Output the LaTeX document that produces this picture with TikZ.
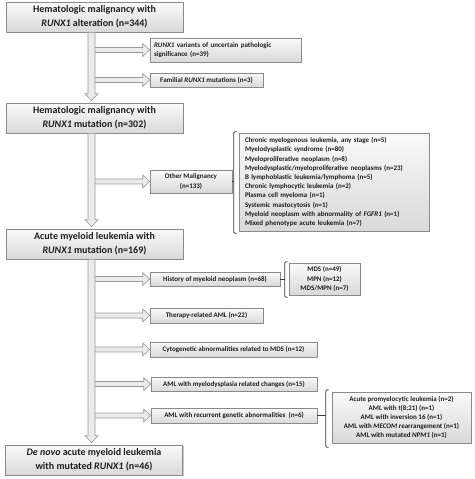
\documentclass[tikz,border=0pt]{standalone}
\usepackage{fontspec}
\setmainfont{Carlito}
\usetikzlibrary{shadows,calc}
\definecolor{bordc}{HTML}{8A8A8A}
\definecolor{txtc}{HTML}{1E1E1E}
\definecolor{arrfill}{HTML}{EBEBEB}
\definecolor{arrdraw}{HTML}{9A9A9A}
\definecolor{brkc}{HTML}{3A3A3A}
\newcommand{\bigfont}{\fontsize{10}{14}\selectfont\bfseries}
\newcommand{\smallfont}{\fontsize{7}{9.2}\selectfont\bfseries}
\newcommand{\hfat}[2]{\draw[fatarrow] let \p1=(#1), \p2=(#2) in
  (\x1,\y2+2.5pt) -- (\x2-7pt,\y2+2.5pt) -- (\x2-7pt,\y2+6.5pt) -- (\x2,\y2)
  -- (\x2-7pt,\y2-6.5pt) -- (\x2-7pt,\y2-2.5pt) -- (\x1,\y2-2.5pt) -- cycle;}
\newcommand{\vfat}[2]{\draw[fatarrow] let \p1=(#1), \p2=(#2) in
  (\x1-3.5pt,\y1) -- (\x1-3.5pt,\y2+9pt) -- (\x1-6.5pt,\y2+9pt) -- (\x1,\y2+2pt)
  -- (\x1+6.5pt,\y2+9pt) -- (\x1+3.5pt,\y2+9pt) -- (\x1+3.5pt,\y1) -- cycle;}
\begin{document}
\begin{tikzpicture}[x=1pt,y=-1pt,
  boxbase/.style={draw=bordc, line width=0.6pt, top color=gray!4, bottom color=gray!30,
    drop shadow={shadow xshift=1.3pt, shadow yshift=-1.3pt, fill=black, opacity=0.22},
    text=txtc, inner sep=0pt, anchor=center},
  mainbox/.style={boxbase, font=\bigfont, align=center, minimum width=177pt, minimum height=30pt},
  sidebox/.style={boxbase, font=\smallfont, align=center},
  fatarrow/.style={draw=arrdraw, fill=arrfill, line width=0.6pt, line join=miter},
  brk/.style={draw=brkc, line width=0.7pt, rounded corners=1.2pt}]
\useasboundingbox (0,0) rectangle (474,479);
\coordinate (spine) at (91.5,0);

% main boxes
\node[mainbox] (b1) at (94.5,17) {Hematologic malignancy with\\\textit{RUNX1} alteration (n=344)};
\node[mainbox] (b2) at (94.5,118) {Hematologic malignancy with\\\textit{RUNX1} mutation (n=302)};
\node[mainbox] (b3) at (94.5,244) {Acute myeloid leukemia with\\\textit{RUNX1} mutation (n=169)};
\node[mainbox] (b4) at (94,460) {\textit{De novo} acute myeloid leukemia\\with mutated \textit{RUNX1} (n=46)};

% side boxes
\node[sidebox, minimum width=151pt, minimum height=24pt, text width=143pt, align=left] (s1) at (225.5,50)
  {\textit{RUNX1} variants of uncertain pathologic\\significance (n=39)};
\node[sidebox, minimum width=113pt, minimum height=14pt] (s2) at (206.5,80) {Familial \textit{RUNX1} mutations (n=3)};
\node[sidebox, minimum width=82pt, minimum height=23pt] (om) at (191,181.5) {Other Malignancy\\(n=133)};
\node[sidebox, minimum width=190pt, minimum height=98pt, text width=178pt, align=left] (list) at (334,182)
  {Chronic myelogenous leukemia, any stage (n=5)\\
   Myelodysplastic syndrome (n=80)\\
   Myeloproliferative neoplasm (n=8)\\
   Myelodysplastic/myeloproliferative neoplasms (n=23)\\
   B lymphoblastic leukemia/lymphoma (n=5)\\
   Chronic lymphocytic leukemia (n=2)\\
   Plasma cell myeloma (n=1)\\
   Systemic mastocytosis (n=1)\\
   Myeloid neoplasm with abnormality of \textit{FGFR1} (n=1)\\
   Mixed phenotype acute leukemia (n=7)};
\node[sidebox, minimum width=130pt, minimum height=14pt] (h) at (215,279) {History of myeloid neoplasm (n=68)};
\node[sidebox, minimum width=113pt, minimum height=15pt] (t) at (206.5,315.5) {Therapy-related AML (n=22)};
\node[sidebox, minimum width=167pt, minimum height=15pt] (c) at (233.5,349.5) {Cytogenetic abnormalities related to MDS (n=12)};
\node[sidebox, minimum width=166pt, minimum height=14pt] (m) at (234,384) {AML with myelodysplasia related changes (n=15)};
\node[sidebox, minimum width=166pt, minimum height=15pt] (r) at (234,415.5) {AML with recurrent genetic abnormalities~ (n=6)};
\node[sidebox, minimum width=71pt, minimum height=32pt] (mds) at (324.5,279) {MDS (n=49)\\MPN (n=12)\\MDS/MPN (n=7)};
\node[sidebox, minimum width=139pt, minimum height=51pt] (rec) at (401.5,417.5)
  {Acute promyelocytic leukemia (n=2)\\
   AML with t(8;21) (n=1)\\
   AML with inversion 16 (n=1)\\
   AML with \textit{MECOM} rearrangement (n=1)\\
   AML with mutated \textit{NPM1} (n=1)};

% side arrows
\hfat{spine |- s1.west}{s1.west}
\hfat{spine |- s2.west}{s2.west}
\hfat{spine |- om.west}{om.west}
\hfat{spine |- h.west}{h.west}
\hfat{spine |- t.west}{t.west}
\hfat{spine |- c.west}{c.west}
\hfat{spine |- m.west}{m.west}
\hfat{spine |- r.west}{r.west}

% vertical arrows
\vfat{spine |- b1.south}{spine |- b2.north}
\vfat{spine |- b2.south}{spine |- b3.north}
\vfat{spine |- b3.south}{spine |- b4.north}

% brackets
\coordinate (k1) at ([xshift=-5pt]list.west);
\draw[brk] ([xshift=-2pt,yshift=1pt]list.north west) -- ([xshift=-5pt,yshift=1pt]list.north west)
  -- ([xshift=-5pt,yshift=-2pt]list.south west) -- ([xshift=-2pt,yshift=-2pt]list.south west);
\draw[brk] (om.east) -- (om.east -| k1);
\coordinate (k2) at ([xshift=-4pt]mds.west);
\draw[brk] ([xshift=-1pt,yshift=1pt]mds.north west) -- ([xshift=-4pt,yshift=1pt]mds.north west)
  -- ([xshift=-4pt,yshift=-2pt]mds.south west) -- ([xshift=-1pt,yshift=-2pt]mds.south west);
\draw[brk] (h.east) -- (h.east -| k2);
\coordinate (k3) at ([xshift=-6pt]rec.west);
\draw[brk] ([xshift=-3pt,yshift=2pt]rec.north west) -- ([xshift=-6pt,yshift=2pt]rec.north west)
  -- ([xshift=-6pt,yshift=-4pt]rec.south west) -- ([xshift=-3pt,yshift=-4pt]rec.south west);
\draw[brk] (r.east) -- (r.east -| k3);
\end{tikzpicture}
\end{document}
